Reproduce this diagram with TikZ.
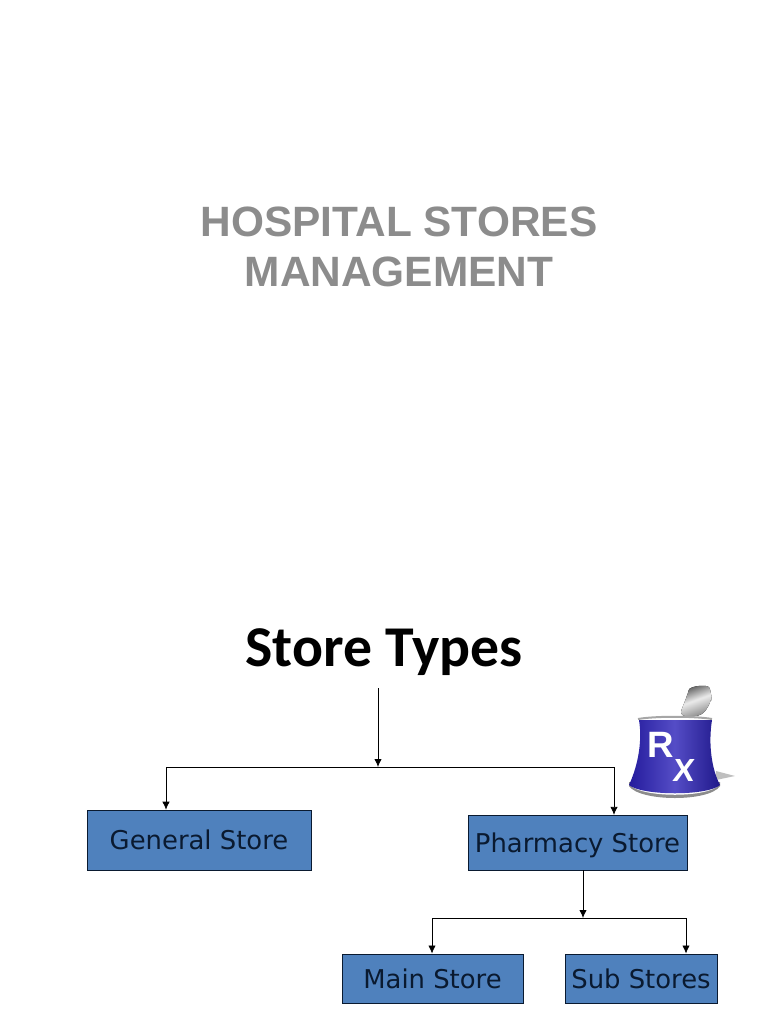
\documentclass[tikz,border=0pt]{standalone}
\usepackage{fontspec}
\setmainfont{Liberation Sans}
\newfontfamily\headfont{Carlito}
\newfontfamily\boxfont{DejaVu Sans}
\usepackage{xcolor}
\usetikzlibrary{arrows.meta}
\definecolor{boxblue}{HTML}{4F81BD}
\definecolor{boxtext}{HTML}{0A1A30}
\definecolor{potblue}{HTML}{2A20B8}
\tikzstyle{storebox} = [rectangle, draw=boxtext, fill=boxblue, inner sep=0pt, text=boxtext, font=\boxfont\fontsize{19.4}{22}\selectfont]
\tikzstyle{titletext} = [align=center, text=black!45, font=\bfseries\fontsize{31.8}{37.5}\selectfont]
\tikzstyle{rxtext} = [white, inner sep=0pt, text depth=0pt]
\tikzstyle{arrow} = [line width=0.6pt,-{Latex[length=6pt,width=5.5pt]}]
\tikzstyle{line} = [line width=0.6pt]

\begin{document}
\begin{tikzpicture}[x=0.75pt,y=-0.75pt]
	\useasboundingbox (0,0) rectangle (768,1024);

	\node (title) [titletext] at (399,246.5) {HOSPITAL STORES\\MANAGEMENT};
	\node (heading) [font=\headfont\bfseries\fontsize{43.3}{50}\selectfont] at (384,652.5) {Store Types};

	\node (general) [storebox,minimum width=168pt,minimum height=45pt] at (199,840) {General Store};
	\node (pharmacy) [storebox,minimum width=164pt,minimum height=41pt,text height=19.2pt,text depth=4.6pt] at (577.5,842.5) {Pharmacy Store};
	\node (main) [storebox,minimum width=136pt,minimum height=37pt] at (432.5,978.5) {Main Store};
	\node (sub) [storebox,minimum width=114pt,minimum height=37pt] at (641,978.5) {Sub Stores};

	\coordinate (top) at (378,688);
	\coordinate (topjoin) at (378,767);
	\coordinate (left) at (166,767);
	\coordinate (right) at (614,767);
	\coordinate (pharmacyout) at (583,870);
	\coordinate (lowjoin) at (583,918);
	\coordinate (lowleft) at (432,918);
	\coordinate (lowright) at (686,918);

	\draw [line] (left) -- (right);
	\draw [line] (lowleft) -- (lowright);
	\draw [arrow] (top) -- (topjoin);
	\draw [arrow] (left) -- (left |- general.north);
	\draw [arrow] (right) -- (right |- pharmacy.north);
	\draw [arrow] (pharmacyout) -- (lowjoin);
	\draw [arrow] (lowleft) -- (lowleft |- main.north);
	\draw [arrow] (lowright) -- (lowright |- sub.north);

	% mortar and pestle
	\fill [black!25] (716,771) -- (735,776) -- (716,780) -- cycle;
	\fill [left color=black!70,right color=black!45,middle color=black!8,shading angle=20,rounded corners=5pt]
		(679,716) -- (687,696) .. controls (690,686) and (708,684) .. (712,694) -- (711,702) -- (702,716) -- cycle;
	\fill [black!45] (629,786) .. controls (640,802) and (710,802) .. (720,786) -- (720,782) -- (629,782) -- cycle;
	\fill [white] (630,785) .. controls (642,798) and (708,798) .. (719,785) -- cycle;
	\shade [left color=potblue!85!black,right color=potblue!75!black,middle color=potblue!80!white]
		(639,720) .. controls (643,745) and (636,770) .. (629,785)
		.. controls (642,796) and (708,796) .. (720,785)
		.. controls (712,770) and (708,745) .. (712,720) -- cycle;
	\draw [black!35,line width=1.5pt] (638,719) .. controls (655,716) and (695,716) .. (712,719);
	\node (rxr) [rxtext,text height=19.8pt,font=\bfseries\fontsize{27.5}{27.5}\selectfont] at (661,744) {R};
	\node (rxx) [rxtext,text height=17.3pt,xslant=0.1,font=\bfseries\fontsize{24}{24}\selectfont] at (684,769.5) {X};
\end{tikzpicture}
\end{document}
